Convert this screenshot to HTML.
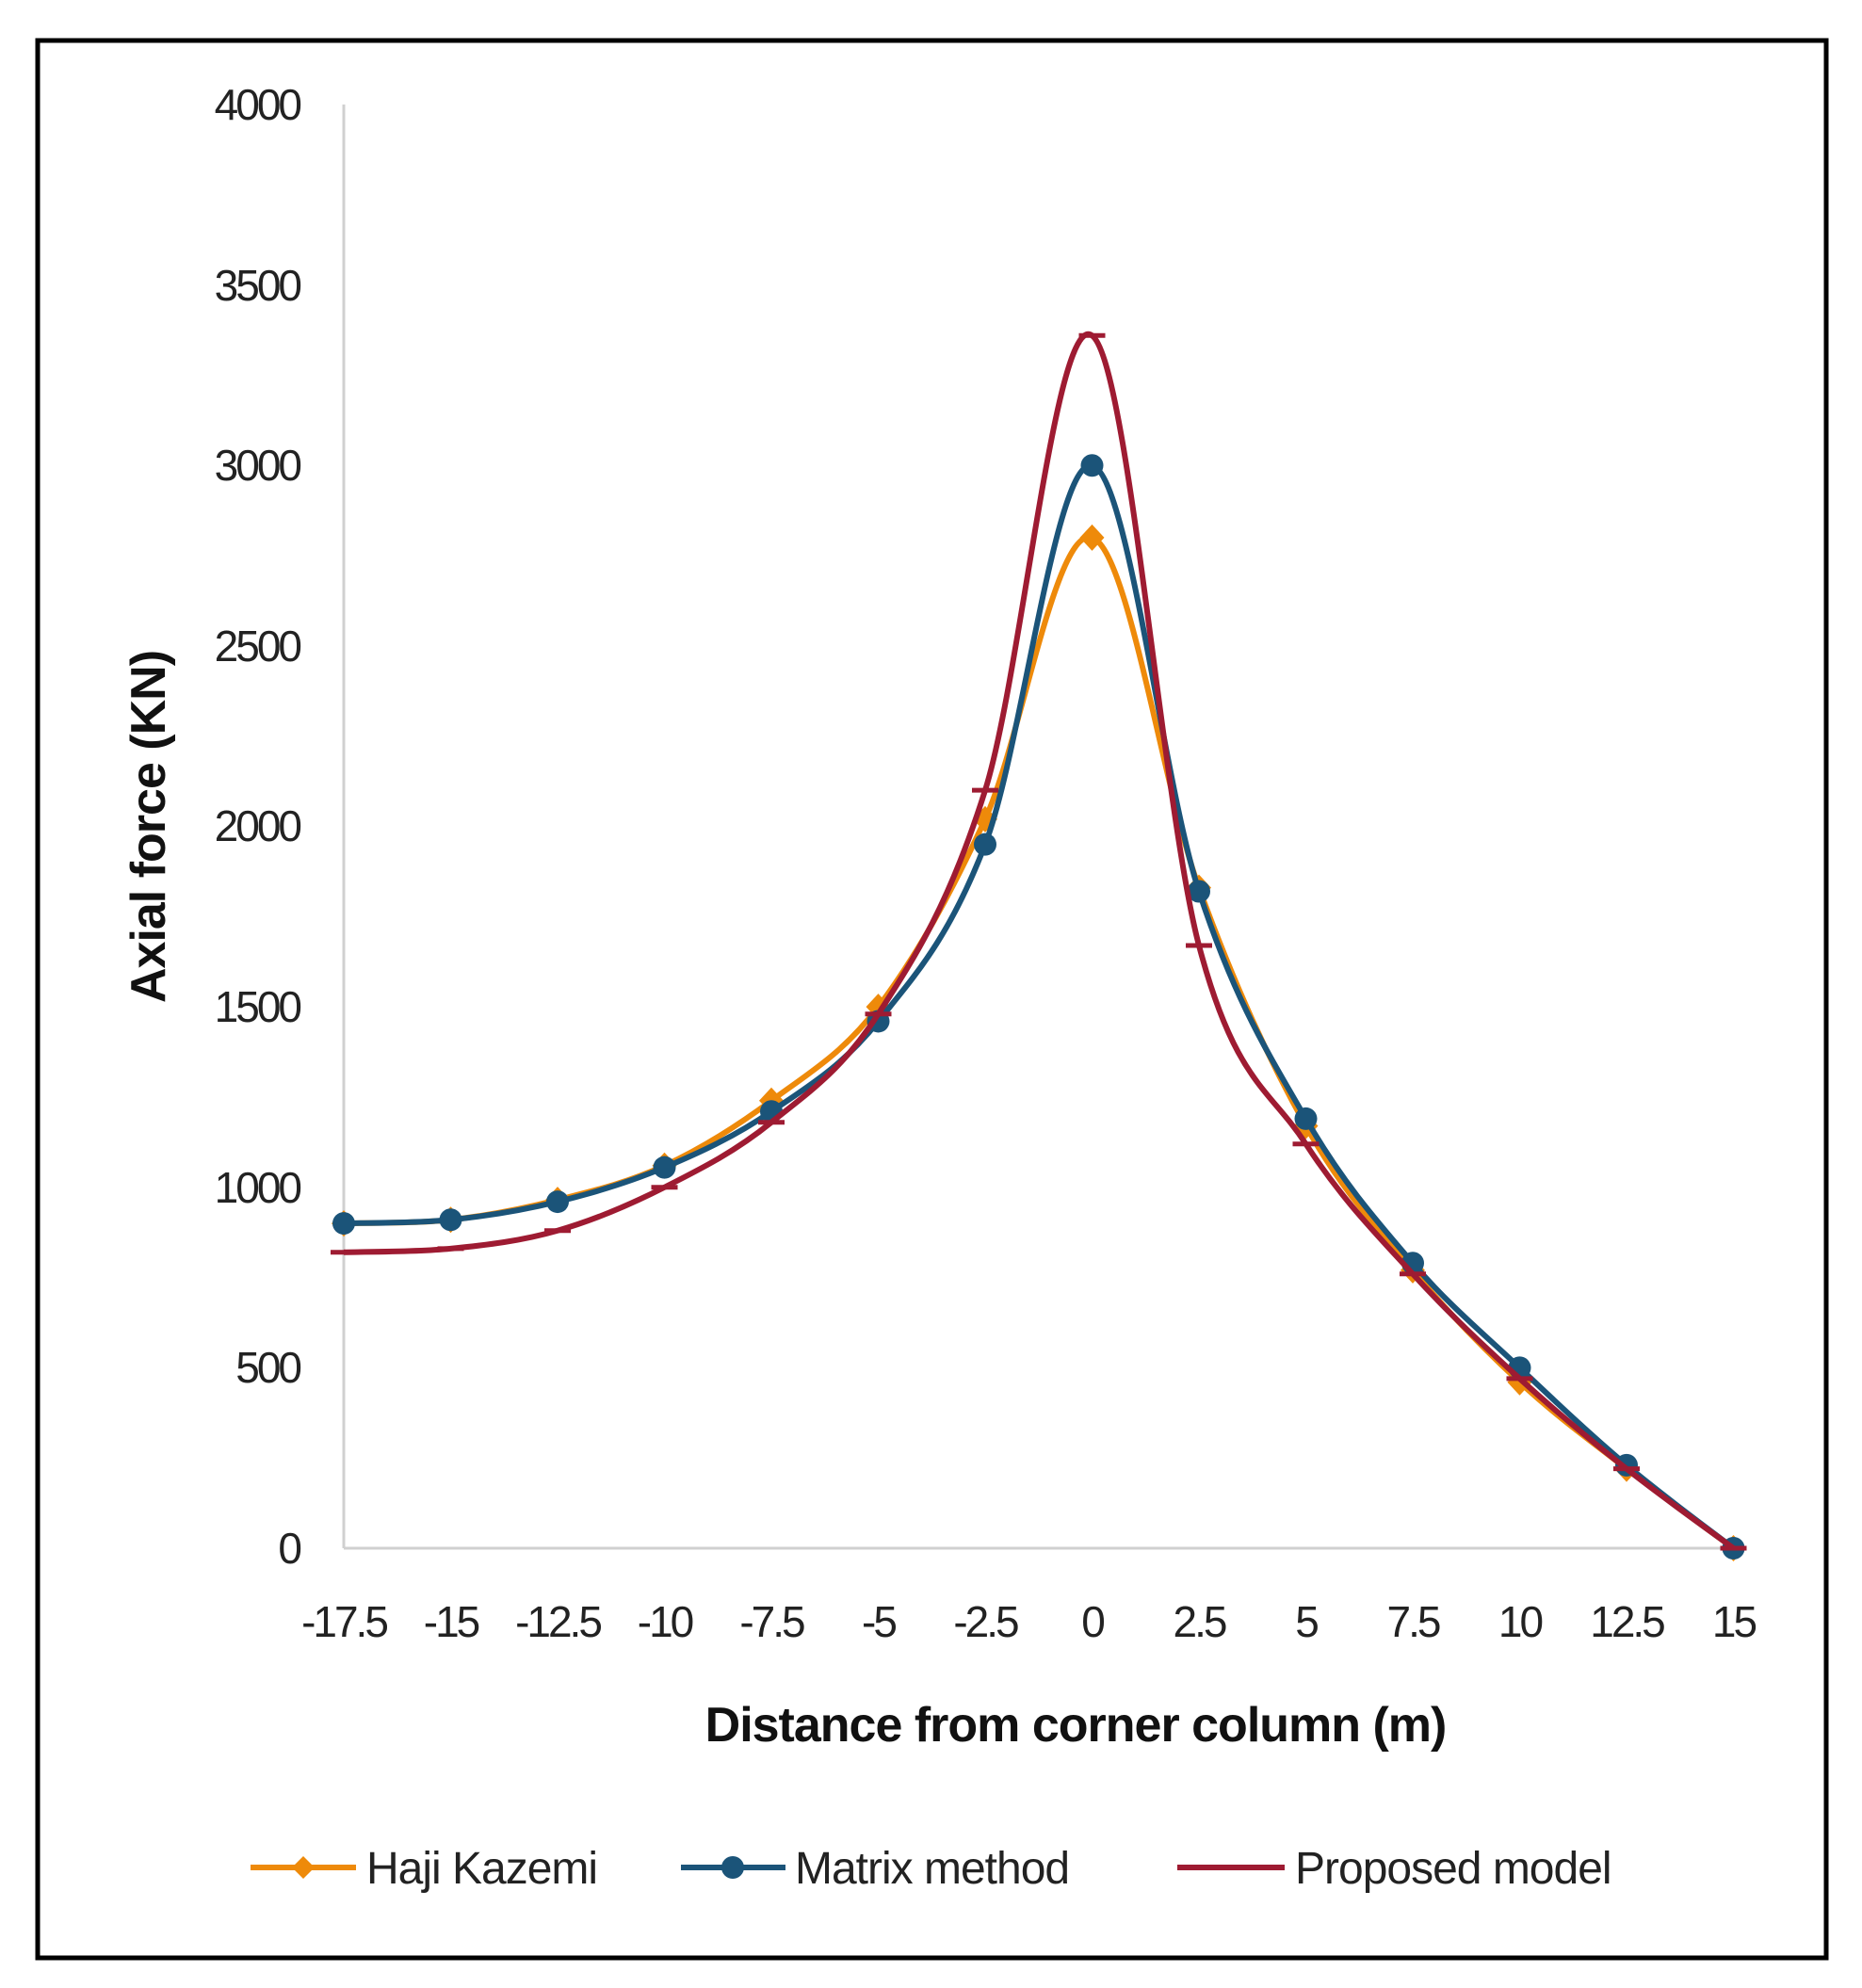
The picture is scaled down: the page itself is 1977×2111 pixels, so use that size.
<!DOCTYPE html>
<html><head><meta charset="utf-8"><style>
html,body{margin:0;padding:0;background:#fff}
svg{display:block}
text{font-family:"Liberation Sans",sans-serif}
</style></head><body>
<svg id="s" width="1977" height="2111" viewBox="0 0 1977 2111" xmlns="http://www.w3.org/2000/svg">
<rect x="40" y="43" width="1899" height="2036" fill="#fff" stroke="#000" stroke-width="5"/>
<line x1="365" y1="111" x2="365" y2="1644" stroke="#d0d0d0" stroke-width="3"/>
<line x1="365" y1="1644" x2="1845" y2="1644" stroke="#d0d0d0" stroke-width="3"/>
<g font-size="46" fill="#222" text-anchor="end" letter-spacing="-3">
<text x="318" y="127">4000</text>
<text x="318" y="319">3500</text>
<text x="318" y="510">3000</text>
<text x="318" y="702">2500</text>
<text x="318" y="893">2000</text>
<text x="318" y="1085">1500</text>
<text x="318" y="1277">1000</text>
<text x="318" y="1468">500</text>
<text x="318" y="1660">0</text>
</g>
<g id="xl" font-size="46" fill="#222" text-anchor="middle" letter-spacing="-3"></g>
<text x="0" y="0" transform="translate(175,878) rotate(-90)" font-size="52" font-weight="bold" text-anchor="middle" fill="#111" letter-spacing="-1">Axial force (KN)</text>
<text x="1142" y="1849" font-size="52" font-weight="bold" text-anchor="middle" fill="#111" letter-spacing="-1">Distance from corner column (m)</text>
<g id="series"></g>
<g font-size="48" fill="#222" letter-spacing="-1">
<line x1="266" y1="1983" x2="378" y2="1983" stroke="#EE8A0A" stroke-width="6"/>
<polygon points="322,1971 334,1983 322,1995 310,1983" fill="#EE8A0A"/>
<text x="389" y="2000">Haji Kazemi</text>
<line x1="723" y1="1983" x2="834" y2="1983" stroke="#1B5479" stroke-width="6"/>
<circle cx="778" cy="1983" r="12" fill="#1B5479"/>
<text x="844" y="2000">Matrix method</text>
<line x1="1250" y1="1983" x2="1364" y2="1983" stroke="#9E1B32" stroke-width="6"/>
<text x="1375" y="2000">Proposed model</text>
</g>
</svg>
<script>
var X=function(i){return 365+i*113.5};var Y=function(v){return 1644-v*0.38325};
var labs=["-17.5","-15","-12.5","-10","-7.5","-5","-2.5","0","2.5","5","7.5","10","12.5","15"];
var xl=document.getElementById('xl'),h='';
labs.forEach(function(l,i){h+='<text x="'+X(i)+'" y="1738">'+l+'</text>'});xl.innerHTML=h;
var D=[
{c:"#EE8A0A",m:"d",v:[900,910,965,1060,1240,1500,2020,2800,1830,1170,770,460,220,0]},
{c:"#1B5479",m:"c",v:[900,910,960,1055,1210,1460,1950,3000,1820,1190,790,500,230,0]},
{c:"#9E1B32",m:"-",v:[820,830,880,1000,1180,1480,2100,3360,1670,1120,760,470,220,0]}];
var out='';
D.forEach(function(s){
 var p=s.v.map(function(v,i){return [X(i),Y(v)]});
 var d='M'+p[0][0]+','+p[0][1];
 for(var i=0;i<p.length-1;i++){
  var p0=p[i-1]||p[i],p1=p[i],p2=p[i+1],p3=p[i+2]||p[i+1];
  var t=0.17;
  var c1=[p1[0]+(p2[0]-p0[0])*t,p1[1]+(p2[1]-p0[1])*t];
  var c2=[p2[0]-(p3[0]-p1[0])*t,p2[1]-(p3[1]-p1[1])*t];
  d+=' C'+c1[0]+','+c1[1]+' '+c2[0]+','+c2[1]+' '+p2[0]+','+p2[1];
 }
 out+='<path d="'+d+'" fill="none" stroke="'+s.c+'" stroke-width="6"/>';
 p.forEach(function(q){
  if(s.m=='d')out+='<polygon points="'+q[0]+','+(q[1]-14)+' '+(q[0]+13)+','+q[1]+' '+q[0]+','+(q[1]+14)+' '+(q[0]-13)+','+q[1]+'" fill="'+s.c+'"/>';
  else if(s.m=='c')out+='<circle cx="'+q[0]+'" cy="'+q[1]+'" r="12" fill="'+s.c+'"/>';
  else out+='<line x1="'+(q[0]-14)+'" y1="'+q[1]+'" x2="'+(q[0]+14)+'" y2="'+q[1]+'" stroke="'+s.c+'" stroke-width="5"/>';
 });
});
document.getElementById('series').innerHTML=out;
</script>
</body></html>
